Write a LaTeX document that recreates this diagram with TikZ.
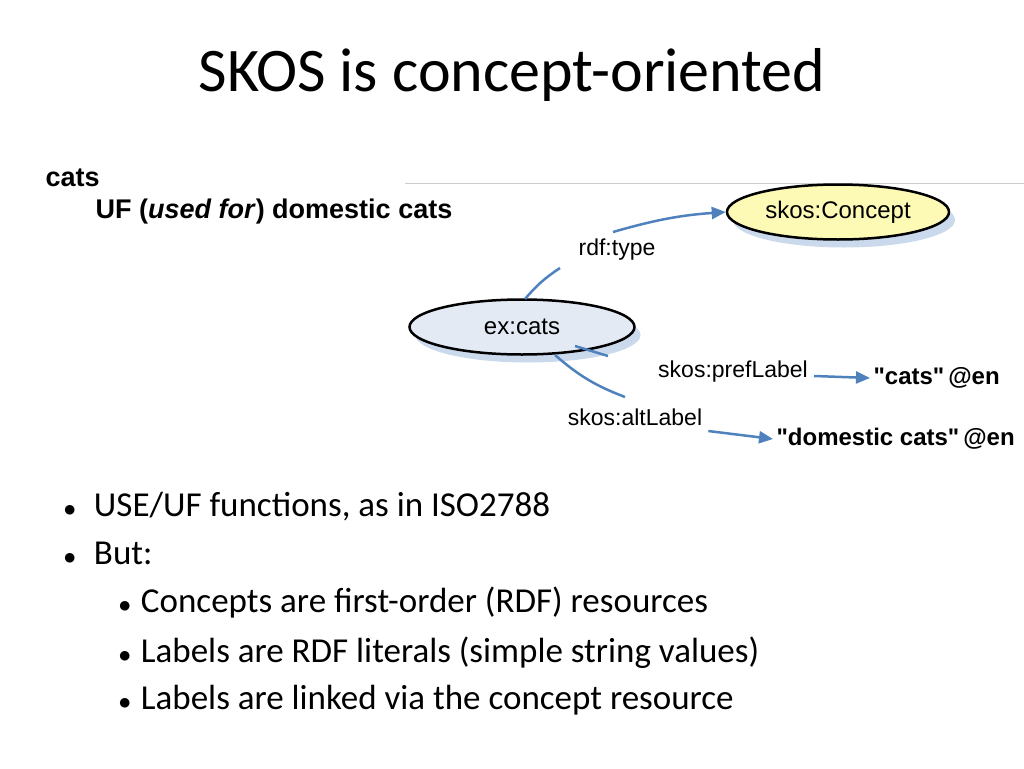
\documentclass[tikz,border=0pt]{standalone}
\usepackage{fontspec}
\setmainfont{Carlito}
\newfontfamily\arialfont{Liberation Sans}
\usetikzlibrary{shadows,arrows.meta,shapes.geometric}
\definecolor{edgeblue}{RGB}{79,129,189}
\definecolor{conceptyellow}{RGB}{252,250,180}
\definecolor{resblue}{RGB}{228,234,244}

\tikzset{
  resource/.style={ellipse,draw,line width=2.5pt,minimum width=#1,minimum height=55pt,
    font=\arialfont\fontsize{24}{28}\selectfont,
    drop shadow={shadow xshift=6pt,shadow yshift=-8pt,opacity=0.3,fill=edgeblue}},
  prop/.style={font=\arialfont\fontsize{23}{27}\selectfont,inner sep=2pt},
  literal/.style={font=\arialfont\bfseries\fontsize{24}{28}\selectfont,anchor=west},
  link/.style={draw=edgeblue,line width=2.5pt},
  linkarrow/.style={link,-{Triangle[length=14pt,width=12pt]}},
  bullet/.style={anchor=west,font=\fontsize{35}{42}\selectfont}
}

\begin{document}
\begin{tikzpicture}[x=1pt,y=-1pt]
  \useasboundingbox (0,0) rectangle (1024,768);
  %title
  \node (title) at (512,75) {\fontsize{62}{74}\selectfont SKOS is concept-oriented};
  %thesaurus entry
  \draw[gray!40,line width=1pt] (405,183) -- (1024,183);
  \node[anchor=west,font=\arialfont\bfseries\fontsize{27}{32}\selectfont] (term) at (42,178) {cats};
  \node[anchor=west,font=\arialfont\bfseries\fontsize{27}{32}\selectfont] (uf) at (92,212) {UF (\textit{used for}) domestic cats};
  %graph
  \node[resource=222pt,fill=conceptyellow] (concept) at (838,212) {skos:Concept};
  \node[resource=225pt,fill=resblue] (excats) at (522,327) {ex:cats};
  \node[prop] (type) at (617,250) {rdf:type};
  \node[prop] (pref) at (733,372) {skos:prefLabel};
  \node[prop] (alt) at (635,417) {skos:altLabel};
  \node[literal] (catslit) at (870,378) {"cats"\,@en};
  \node[literal] (domlit) at (773,439) {"domestic cats"\,@en};
  \draw[link] (525,299) to[bend left=8] (560,268);
  \draw[linkarrow] (613,232) to[bend left=6] (concept.west);
  \draw[link] (575,346) -- (608,356);
  \draw[linkarrow] (pref.east) ++(4,4) -- (catslit.west);
  \draw[link] (555,355) to[bend right=10] (625,397);
  \draw[linkarrow] (alt.east) ++(4,14) -- (domlit.west);
  %bullets
  \node[bullet] (b1) at (60,507) {$\bullet$\hspace{18pt}USE/UF functions, as in ISO2788};
  \node[bullet] (b2) at (60,553) {$\bullet$\hspace{18pt}But:};
  \node[bullet] (s1) at (115,603) {$\bullet$\hspace{10pt}Concepts are first-order (RDF) resources};
  \node[bullet] (s2) at (115,653) {$\bullet$\hspace{10pt}Labels are RDF literals (simple string values)};
  \node[bullet] (s3) at (115,700) {$\bullet$\hspace{10pt}Labels are linked via the concept resource};
\end{tikzpicture}
\end{document}
